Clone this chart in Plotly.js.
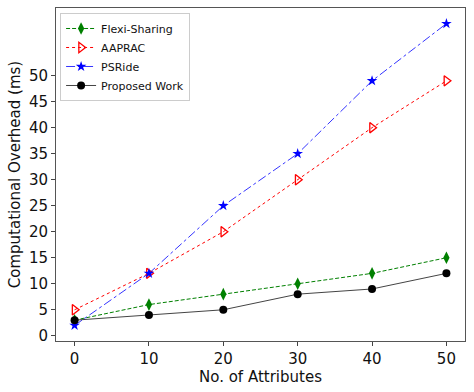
<!DOCTYPE html>
<html><head><meta charset="utf-8">
<script src="https://cdn.plot.ly/plotly-3.0.1.min.js"></script>
<style>html,body{margin:0;padding:0;background:#fff}</style>
</head><body>
<div id="chart" style="width:474px;height:392px"></div>
<script>
const attributes = [0, 10, 20, 30, 40, 50];
const flexiSharing = [3, 6, 8, 10, 12, 15];
const aaprac = [5, 12, 20, 30, 40, 49];
const psride = [2, 12, 25, 35, 49, 60];
const proposedWork = [3, 4, 5, 8, 9, 12];
const yTicks = [0, 5, 10, 15, 20, 25, 30, 35, 40, 45, 50];

const traces = [
  {x: attributes, y: flexiSharing, name: 'Flexi-Sharing', mode: 'lines+markers',
   line: {color: 'green', dash: '4px,2px', width: 1},
   marker: {symbol: 'diamond-tall', size: 9, color: 'green'}},
  {x: attributes, y: aaprac, name: 'AAPRAC', mode: 'lines+markers',
   line: {color: 'red', dash: 'dot', width: 1},
   marker: {symbol: 'triangle-right-open', size: 9, color: 'red', line: {width: 1.3}}},
  {x: attributes, y: psride, name: 'PSRide', mode: 'lines+markers',
   line: {color: 'blue', dash: 'dashdot', width: 0.8},
   marker: {symbol: 'star', size: 8, color: 'blue'}},
  {x: attributes, y: proposedWork, name: 'Proposed Work', mode: 'lines+markers',
   line: {color: '#444', width: 1},
   marker: {symbol: 'circle', size: 8, color: 'black'}}
];

const layout = {
  width: 474, height: 392,
  margin: {l: 56, r: 9, t: 8, b: 51},
  paper_bgcolor: '#fff', plot_bgcolor: '#fff',
  font: {family: 'DejaVu Sans', color: '#111'},
  showlegend: true,
  legend: {x: 0.01, y: 0.985, xanchor: 'left', yanchor: 'top',
    bgcolor: 'rgba(255,255,255,0.9)', bordercolor: '#ccc', borderwidth: 1,
    font: {size: 11, family: 'DejaVu Sans'}, tracegroupgap: 0, itemwidth: 30},
  xaxis: {range: [-2.5, 52.5], tickvals: attributes, ticks: 'outside', ticklen: 4,
    showgrid: false, zeroline: false, showline: true, mirror: true, linecolor: '#555', linewidth: 1,
    tickfont: {size: 15}, title: {text: 'No. of Attributes', font: {size: 15}, standoff: 4}},
  yaxis: {range: [-1, 63], tickvals: yTicks, ticks: 'outside', ticklen: 4,
    showgrid: false, zeroline: false, showline: true, mirror: true, linecolor: '#555', linewidth: 1,
    tickfont: {size: 15}, title: {text: 'Computational Overhead (ms)', font: {size: 15}, standoff: 4}}
};
Plotly.newPlot('chart', traces, layout, {displayModeBar: false});
</script>
</body></html>
